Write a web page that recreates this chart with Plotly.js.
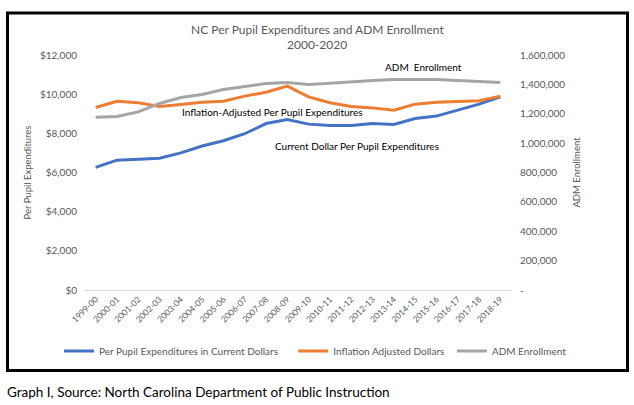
<!DOCTYPE html>
<html>
<head>
<meta charset="utf-8">
<script src="https://cdn.plot.ly/plotly-3.0.1.min.js"></script>
<style>
  html, body { margin: 0; padding: 0; background: #fff; }
  #chart { width: 634px; height: 405px; }
</style>
</head>
<body>
<div id="chart"></div>
<script>
const years = ["1999-00","2000-01","2001-02","2002-03","2003-04","2004-05","2005-06","2006-07","2007-08","2008-09",
               "2009-10","2010-11","2011-12","2012-13","2013-14","2014-15","2015-16","2016-17","2017-18","2018-19"];
const currentDollars = [6260, 6630, 6680, 6730, 7000, 7350, 7620, 7980, 8500, 8710,
                        8470, 8400, 8400, 8500, 8450, 8760, 8880, 9180, 9490, 9860];
const inflationAdjusted = [9320, 9640, 9560, 9370, 9470, 9590, 9640, 9900, 10100, 10410,
                           9860, 9560, 9370, 9300, 9180, 9490, 9590, 9610, 9660, 9900];
const admEnrollment = [1177000, 1181000, 1213000, 1270000, 1310000, 1331000, 1365000, 1385000, 1406000, 1412000,
                       1399000, 1408000, 1419000, 1426000, 1433000, 1433000, 1433000, 1426000, 1419000, 1412000];
const leftTicks = [0, 2000, 4000, 6000, 8000, 10000, 12000];
const leftTickText = ["$0", "$2,000", "$4,000", "$6,000", "$8,000", "$10,000", "$12,000"];
const rightTicks = [0, 200000, 400000, 600000, 800000, 1000000, 1200000, 1400000, 1600000];
const rightTickText = ["-", "200,000", "400,000", "600,000", "800,000", "1,000,000", "1,200,000", "1,400,000", "1,600,000"];

const FONT = "Lato, 'Open Sans', sans-serif";
const GREY = "#595959";
const PAD = "\u00a0\u00a0\u00a0\u00a0";

// plot area in pixels
const L = 85, R = 511, T = 55, B = 290;
const px = x => (x - L) / (R - L);
const py = y => (B - y) / (B - T);

const traces = [
  { x: years, y: currentDollars, type: "scatter", mode: "lines", name: "Per Pupil Expenditures in Current Dollars" + PAD,
    line: { color: "#4472C4", width: 3 }, yaxis: "y" },
  { x: years, y: inflationAdjusted, type: "scatter", mode: "lines", name: "Inflation Adjusted Dollars\u00a0",
    line: { color: "#ED7D31", width: 3 }, yaxis: "y" },
  { x: years, y: admEnrollment, type: "scatter", mode: "lines", name: "ADM Enrollment",
    line: { color: "#A5A5A5", width: 3 }, yaxis: "y2" }
];

const ann = (text, x, y, size, color, xanchor) => ({
  text, xref: "paper", yref: "paper", x: px(x), y: py(y), xanchor: xanchor || "left", yanchor: "middle",
  showarrow: false, font: { size, color }
});

const layout = {
  width: 634, height: 405,
  margin: { l: L, r: 634 - R, t: T, b: 405 - B, pad: 0 },
  paper_bgcolor: "#fff", plot_bgcolor: "#fff",
  font: { family: FONT, color: GREY, size: 10 },
  showlegend: true,
  legend: { orientation: "h", x: px(572), xanchor: "right", y: py(351), yanchor: "middle",
            font: { size: 10, color: GREY, family: FONT }, bgcolor: "rgba(0,0,0,0)", itemwidth: 30, tracegroupgap: 0 },
  xaxis: {
    type: "category", range: [-0.5, 19.5], tickangle: -45, tickfont: { size: 8.5, color: GREY },
    showgrid: false, showline: true, linecolor: "#D9D9D9", linewidth: 1, ticks: "",
    zeroline: false, fixedrange: true
  },
  yaxis: {
    range: [0, 12000], tickvals: leftTicks, ticktext: leftTickText,
    showgrid: false, zeroline: false, showline: false, ticks: "", ticklabelstandoff: 7,
    tickfont: { size: 10, color: GREY },
    title: { text: "Per Pupil Expenditures", font: { size: 9.5, color: GREY }, standoff: 6 }
  },
  yaxis2: {
    overlaying: "y", side: "right", range: [0, 1600000], tickvals: rightTicks, ticktext: rightTickText,
    showgrid: false, zeroline: false, showline: false, ticks: "", ticklabelstandoff: 8,
    tickfont: { size: 10, color: GREY },
    title: { text: "ADM Enrollment", font: { size: 9.5, color: GREY }, standoff: 9 }
  },
  annotations: [
    ann("NC Per Pupil Expenditures and ADM Enrollment", 317, 30, 12, GREY, "center"),
    ann("2000-2020", 317, 45, 12, GREY, "center"),
    ann("ADM  Enrollment", 383, 67, 10, "#000"),
    ann("Inflation-Adjusted Per Pupil Expenditures", 180, 112, 10, "#000"),
    ann("Current Dollar Per Pupil Expenditures", 273, 146, 10, "#000"),
    ann("Graph I, Source: North Carolina Department of Public Instruction", 5, 392, 13.5, "#000")
  ],
  shapes: [
    { type: "rect", xref: "paper", yref: "paper", x0: px(7.5), x1: px(627.5), y0: py(13), y1: py(370.5),
      line: { color: "#000", width: 3 }, fillcolor: "rgba(0,0,0,0)", layer: "above" }
  ]
};

Plotly.newPlot("chart", traces, layout, { displayModeBar: false, staticPlot: true });
</script>
</body>
</html>
